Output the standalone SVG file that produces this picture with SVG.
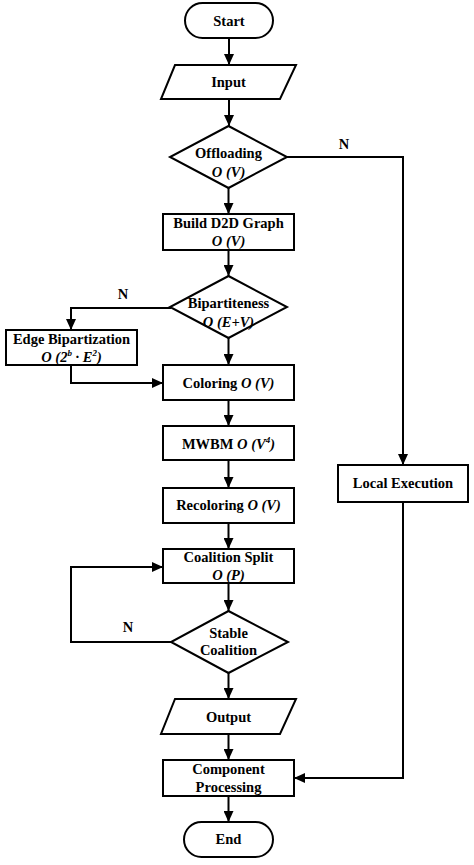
<svg xmlns="http://www.w3.org/2000/svg" width="474" height="865" viewBox="0 0 474 865" font-family="'Liberation Serif', 'Times New Roman', 'DejaVu Serif', serif">
<style>
.s{fill:#fff;stroke:#000;stroke-width:2}
.t{font-family:'Liberation Serif','Times New Roman','DejaVu Serif',serif;font-weight:bold;font-size:14.5px;text-anchor:middle;fill:#000}
.i{font-style:italic}
.c{fill:none;stroke:#000;stroke-width:2}
.sup{font-size:9px}
</style>
<defs>
<marker id="a" markerUnits="userSpaceOnUse" markerWidth="11" markerHeight="10" refX="11" refY="5" orient="auto">
<path d="M0,0 L11,5 L0,10 z" fill="#000"/>
</marker>
</defs>
<rect width="474" height="865" fill="#fff"/>
<g id="connectors">
<path class="c" d="M229,38 V65" marker-end="url(#a)"/>
<path class="c" d="M229,99 V126" marker-end="url(#a)"/>
<path class="c" d="M228.5,188 V214" marker-end="url(#a)"/>
<path class="c" d="M228.5,250 V276" marker-end="url(#a)"/>
<path class="c" d="M171,308 H71 V330" marker-end="url(#a)"/>
<path class="c" d="M71,365 V383 H163" marker-end="url(#a)"/>
<path class="c" d="M228.5,338 V365" marker-end="url(#a)"/>
<path class="c" d="M228.5,400 V426" marker-end="url(#a)"/>
<path class="c" d="M228.5,460 V488" marker-end="url(#a)"/>
<path class="c" d="M228.5,523 V549" marker-end="url(#a)"/>
<path class="c" d="M228.5,583 V611" marker-end="url(#a)"/>
<path class="c" d="M171,642 H71 V567 H163" marker-end="url(#a)"/>
<path class="c" d="M228.5,673 V699" marker-end="url(#a)"/>
<path class="c" d="M228.5,734 V760" marker-end="url(#a)"/>
<path class="c" d="M228.5,796 V822" marker-end="url(#a)"/>
<path class="c" d="M287,157 H403 V465" marker-end="url(#a)"/>
<path class="c" d="M403,502 V778 H294" marker-end="url(#a)"/>
<text class="t" x="344" y="149">N</text>
<text class="t" x="123" y="299">N</text>
<text class="t" x="128" y="632">N</text>
</g>
<g id="start">
<rect class="s" x="185" y="3" width="88" height="35" rx="17.5"/>
<text class="t" x="229" y="25.5">Start</text>
</g>
<g id="input">
<polygon class="s" points="175,65 296,65 280,99 161,99"/>
<text class="t" x="228.5" y="87">Input</text>
</g>
<g id="offloading">
<polygon class="s" points="228.5,126 287,157 228.5,188 170,157"/>
<text class="t" x="228.5" y="158">Offloading</text>
<text class="t i" x="228.5" y="177">O (V)</text>
</g>
<g id="build">
<rect class="s" x="163" y="214" width="131" height="36"/>
<text class="t" x="228.5" y="228">Build D2D Graph</text>
<text class="t i" x="228.5" y="246">O (V)</text>
</g>
<g id="bipartiteness">
<polygon class="s" points="228.5,276 287,307 228.5,338 170,307"/>
<text class="t" x="228.5" y="308">Bipartiteness</text>
<text class="t i" x="228.5" y="327">O (E+V)</text>
</g>
<g id="edge">
<rect class="s" x="6" y="330" width="131" height="35"/>
<text class="t" x="71.5" y="344">Edge Bipartization</text>
<text class="t i" x="71.5" y="362">O (2<tspan class="sup" dy="-6">b</tspan><tspan dy="6"> · E</tspan><tspan class="sup" dy="-6">2</tspan><tspan dy="6">)</tspan></text>
</g>
<g id="coloring">
<rect class="s" x="163" y="365" width="131" height="35"/>
<text class="t" x="228.5" y="388">Coloring <tspan class="i">O (V)</tspan></text>
</g>
<g id="mwbm">
<rect class="s" x="163" y="426" width="131" height="34"/>
<text class="t" x="228.5" y="449">MWBM <tspan class="i">O (V<tspan class="sup" dy="-6">4</tspan><tspan dy="6">)</tspan></tspan></text>
</g>
<g id="recoloring">
<rect class="s" x="163" y="488" width="131" height="35"/>
<text class="t" x="228.5" y="510">Recoloring <tspan class="i">O (V)</tspan></text>
</g>
<g id="coalition">
<rect class="s" x="163" y="549" width="131" height="34"/>
<text class="t" x="228.5" y="562">Coalition Split</text>
<text class="t i" x="228.5" y="580">O (P)</text>
</g>
<g id="stable">
<polygon class="s" points="228.5,611 288,642 228.5,673 171,642"/>
<text class="t" x="228.5" y="638">Stable</text>
<text class="t" x="228.5" y="655">Coalition</text>
</g>
<g id="output">
<polygon class="s" points="175,699 296,699 280,734 161,734"/>
<text class="t" x="228.5" y="722">Output</text>
</g>
<g id="component">
<rect class="s" x="163" y="760" width="131" height="36"/>
<text class="t" x="228.5" y="774">Component</text>
<text class="t" x="228.5" y="792">Processing</text>
</g>
<g id="end">
<rect class="s" x="184" y="822" width="89" height="35" rx="17.5"/>
<text class="t" x="228.5" y="844">End</text>
</g>
<g id="local">
<rect class="s" x="338" y="465" width="130" height="37"/>
<text class="t" x="403" y="488">Local Execution</text>
</g>
</svg>
